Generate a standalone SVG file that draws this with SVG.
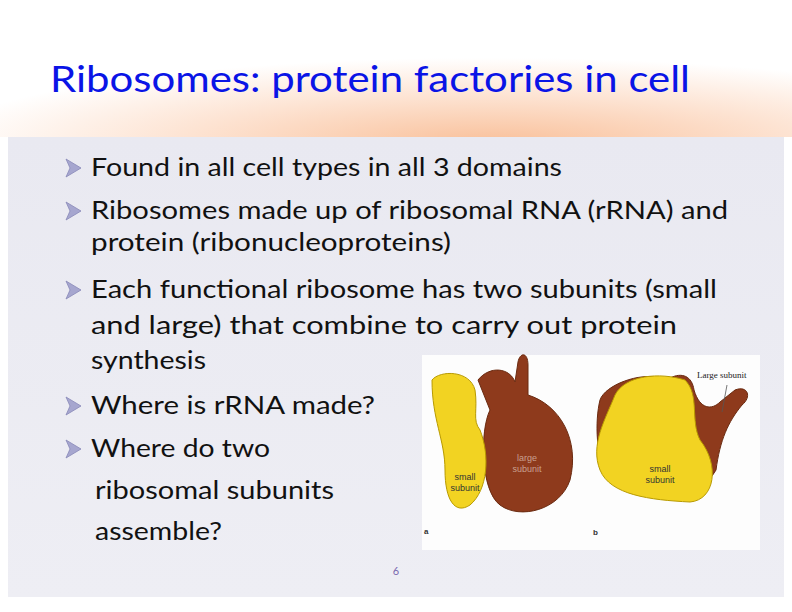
<svg xmlns="http://www.w3.org/2000/svg" width="792" height="612" viewBox="0 0 792 612">
<defs>
<radialGradient id="hdr" cx="0.62" cy="1.05" r="0.7">
<stop offset="0" stop-color="#f9c09a"/><stop offset="0.55" stop-color="#fde3d2"/><stop offset="1" stop-color="#ffffff"/>
</radialGradient>
<linearGradient id="body" x1="0" y1="0" x2="0" y2="1"><stop offset="0" stop-color="#e9e9f1"/><stop offset="1" stop-color="#eeeef4"/></linearGradient>
<polygon id="arr" points="0,-9 15,0 0,9 4,0" fill="#a6a6cf" stroke="#8888b8" stroke-width="0.8"/>
</defs>
<style>
.b{font-family:Lato,"Open Sans",sans-serif;font-size:25px;fill:#111}
.b text{lengthAdjust:spacingAndGlyphs}
</style>
<rect width="792" height="612" fill="#fff"/>
<rect x="0" y="15" width="792" height="122" fill="url(#hdr)"/>
<rect x="8" y="137" width="776" height="460" fill="url(#body)"/>
<text x="50" y="92" font-family="Lato,'Open Sans',sans-serif" font-size="37" fill="#0a14e6" textLength="640" lengthAdjust="spacingAndGlyphs">Ribosomes:  protein factories in cell</text>
<g class="b">
<use href="#arr" x="66" y="168"/><text x="91" y="176" textLength="471" lengthAdjust="spacingAndGlyphs">Found in all cell types in all 3 domains</text>
<use href="#arr" x="66" y="211"/><text x="91" y="219" textLength="637" lengthAdjust="spacingAndGlyphs">Ribosomes made up of ribosomal RNA (rRNA) and</text>
<text x="91" y="251" textLength="360" lengthAdjust="spacingAndGlyphs">protein (ribonucleoproteins)</text>
<use href="#arr" x="66" y="290"/><text x="91" y="298" textLength="626" lengthAdjust="spacingAndGlyphs">Each functional ribosome has two subunits (small</text>
<text x="91" y="334" textLength="586" lengthAdjust="spacingAndGlyphs">and large) that combine to carry out protein</text>
<text x="91" y="369" textLength="115" lengthAdjust="spacingAndGlyphs">synthesis</text>
<use href="#arr" x="66" y="406"/><text x="91" y="414" textLength="284" lengthAdjust="spacingAndGlyphs">Where is rRNA made?</text>
<use href="#arr" x="66" y="449"/><text x="91" y="457" textLength="179" lengthAdjust="spacingAndGlyphs">Where do two</text>
<text x="95" y="499" textLength="239" lengthAdjust="spacingAndGlyphs">ribosomal subunits</text>
<text x="95" y="540" textLength="127" lengthAdjust="spacingAndGlyphs">assemble?</text>
</g>
<text x="396" y="575" font-family="Lato,sans-serif" font-size="11" fill="#7a6ab0" text-anchor="middle">6</text>
<g id="figure">
<rect x="422" y="355" width="338" height="195" fill="#fdfdfd"/>
<g stroke-width="1">
<path d="M478,380 C490,365 510,368 515,382 L518,362 C520,352 528,352 528,365 L528,395 C560,405 580,440 570,480 C560,510 520,520 500,505 C480,490 480,430 490,410 Z" fill="#8e3a1c" stroke="#6a2a10"/>
<path d="M432,380 C440,370 470,370 475,390 C478,410 472,420 480,430 C490,455 488,490 470,505 C455,515 445,500 445,470 C445,440 432,420 432,380 Z" fill="#f2d322" stroke="#b89a00"/>
<path d="M600,400 C605,385 640,372 660,378 L670,378 C682,372 692,376 694,390 C700,410 712,410 720,402 L735,390 C748,385 752,397 742,405 C728,422 720,440 716,470 C700,500 640,505 610,480 C595,460 595,420 600,400 Z" fill="#8e3a1c" stroke="#6a2a10"/>
<path d="M615,395 C625,375 660,372 685,380 C700,395 690,420 700,440 C720,465 715,500 690,502 C650,500 610,495 600,470 C590,445 605,420 615,395 Z" fill="#f2d322" stroke="#b89a00"/>
<line x1="727" y1="385" x2="722" y2="412" stroke="#555" stroke-width="0.8"/>
</g>
<g font-family="Liberation Sans,sans-serif" font-size="9" fill="#333" text-anchor="middle">
<text x="465" y="480">small</text><text x="465" y="491">subunit</text>
<text x="527" y="461" fill="#c9a090">large</text><text x="527" y="472" fill="#c9a090">subunit</text>
<text x="660" y="472">small</text><text x="660" y="483">subunit</text>
<text x="424" y="534" text-anchor="start" font-weight="bold" font-size="8">a</text>
<text x="593" y="535" text-anchor="start" font-weight="bold" font-size="8">b</text>
</g>
<text x="697" y="378" font-family="Liberation Serif,serif" font-size="9" fill="#222">Large subunit</text>
</g>
</svg>
